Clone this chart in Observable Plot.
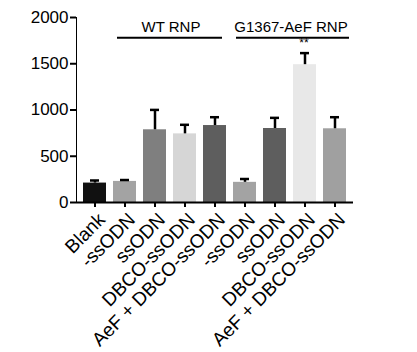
<!DOCTYPE html>
<html>
<head>
<meta charset="utf-8">
<script src="https://cdn.jsdelivr.net/npm/d3@7"></script>
<script src="https://cdn.jsdelivr.net/npm/@observablehq/plot@0.6"></script>
<style>
  html, body { margin: 0; padding: 0; background: #fff; }
  #chart svg { font-family: "Liberation Sans", Arial, sans-serif; }
  #chart svg [aria-label^="y-axis"] path,
  #chart svg [aria-label^="y-axis"] line { stroke-width: 2; stroke: #000; }
  #chart svg [aria-label^="y-axis"] text { font-size: 17px; }
</style>
</head>
<body>
<div id="chart"></div>
<script>
const labels = ["Blank", "-ssODN", "ssODN", "DBCO-ssODN", "AeF + DBCO-ssODN",
                "-ssODN", "ssODN", "DBCO-ssODN", "AeF + DBCO-ssODN"];
const values = [210, 228, 786, 742, 832, 218, 800, 1490, 797];
const errors = [28, 15, 215, 98, 90, 36, 115, 125, 125];
const fills = ["#111111", "#a3a3a3", "#7f7f7f", "#d6d6d6", "#5e5e5e",
               "#a3a3a3", "#5e5e5e", "#e8e8e8", "#a0a0a0"];
const yTicks = [0, 500, 1000, 1500, 2000];
const groupNames = ["WT RNP", "G1367-AeF RNP"];
const groupStart = [1, 5];
const groupEnd = [4, 8];
const groupMid = [2, 6];
const sigIndex = [7];
const sigText = ["**"];

const keys = labels.map((_, i) => String(i));
const data = keys.map((k, i) => ({k, value: values[i], err: errors[i], fill: fills[i]}));
const groups = groupNames.map((name, i) => ({
  name, start: String(groupStart[i]), end: String(groupEnd[i]), mid: String(groupMid[i])
}));
const sigs = sigIndex.map((idx, i) => ({k: String(idx), text: sigText[i], top: values[idx] + errors[idx]}));

const hasAxisMarks = typeof Plot.axisX === "function";
const xAxisOpts = {tickFormat: i => labels[+i], tickRotate: -45, tickSize: 5, tickPadding: 3, label: null};

const chart = Plot.plot({
  width: 417,
  height: 352,
  marginLeft: 76,
  marginRight: 64,
  marginTop: 17,
  marginBottom: 150,
  style: {fontFamily: "Liberation Sans, Arial, sans-serif", fontSize: "17px", color: "#000", background: "#fff"},
  x: Object.assign({domain: keys, paddingInner: 0.25, paddingOuter: 0.125, label: null},
                   hasAxisMarks ? {} : xAxisOpts),
  y: {domain: [0, 2000], ticks: yTicks, tickFormat: d3.format("d"), tickSize: 6, tickPadding: 2, label: null, line: true},
  color: {type: "identity"},
  marks: [
    Plot.barY(data, {x: "k", y: "value", fill: "fill"}),
    Plot.ruleX(data, {x: "k", y1: "value", y2: d => d.value + d.err, stroke: "#000", strokeWidth: 2.5}),
    Plot.tickY(data, {x: "k", y: d => d.value + d.err, stroke: "#000", strokeWidth: 2.5, insetLeft: 7, insetRight: 7}),
    Plot.ruleY([0], {stroke: "#000", strokeWidth: 2}),
    Plot.ruleY(groups.slice(0, 1), {x1: "start", x2: "end", y: 1780, stroke: "#000", strokeWidth: 2, insetLeft: 4, insetRight: 4}),
    Plot.ruleY(groups.slice(1), {x1: "start", x2: "end", y: 1780, stroke: "#000", strokeWidth: 2, insetLeft: 3, insetRight: -3}),
    Plot.text(groups, {x: "mid", y: 1780, text: "name", dx: 16, dy: -10.5, fontSize: 15, fill: "#000"}),
    Plot.text(sigs, {x: "k", y: "top", text: "text", dx: -1, dy: -10, fontSize: 12, fill: "#000"}),
    ...(hasAxisMarks ? [
      Plot.axisX(Object.assign({}, xAxisOpts, {fill: "none", stroke: "#000", strokeWidth: 2})),
      Plot.axisX(Object.assign({}, xAxisOpts, {stroke: "none", fill: "#000", fontSize: 19, dx: 7, dy: 6}))
    ] : [])
  ]
});
document.getElementById("chart").appendChild(chart);
</script>
</body>
</html>
